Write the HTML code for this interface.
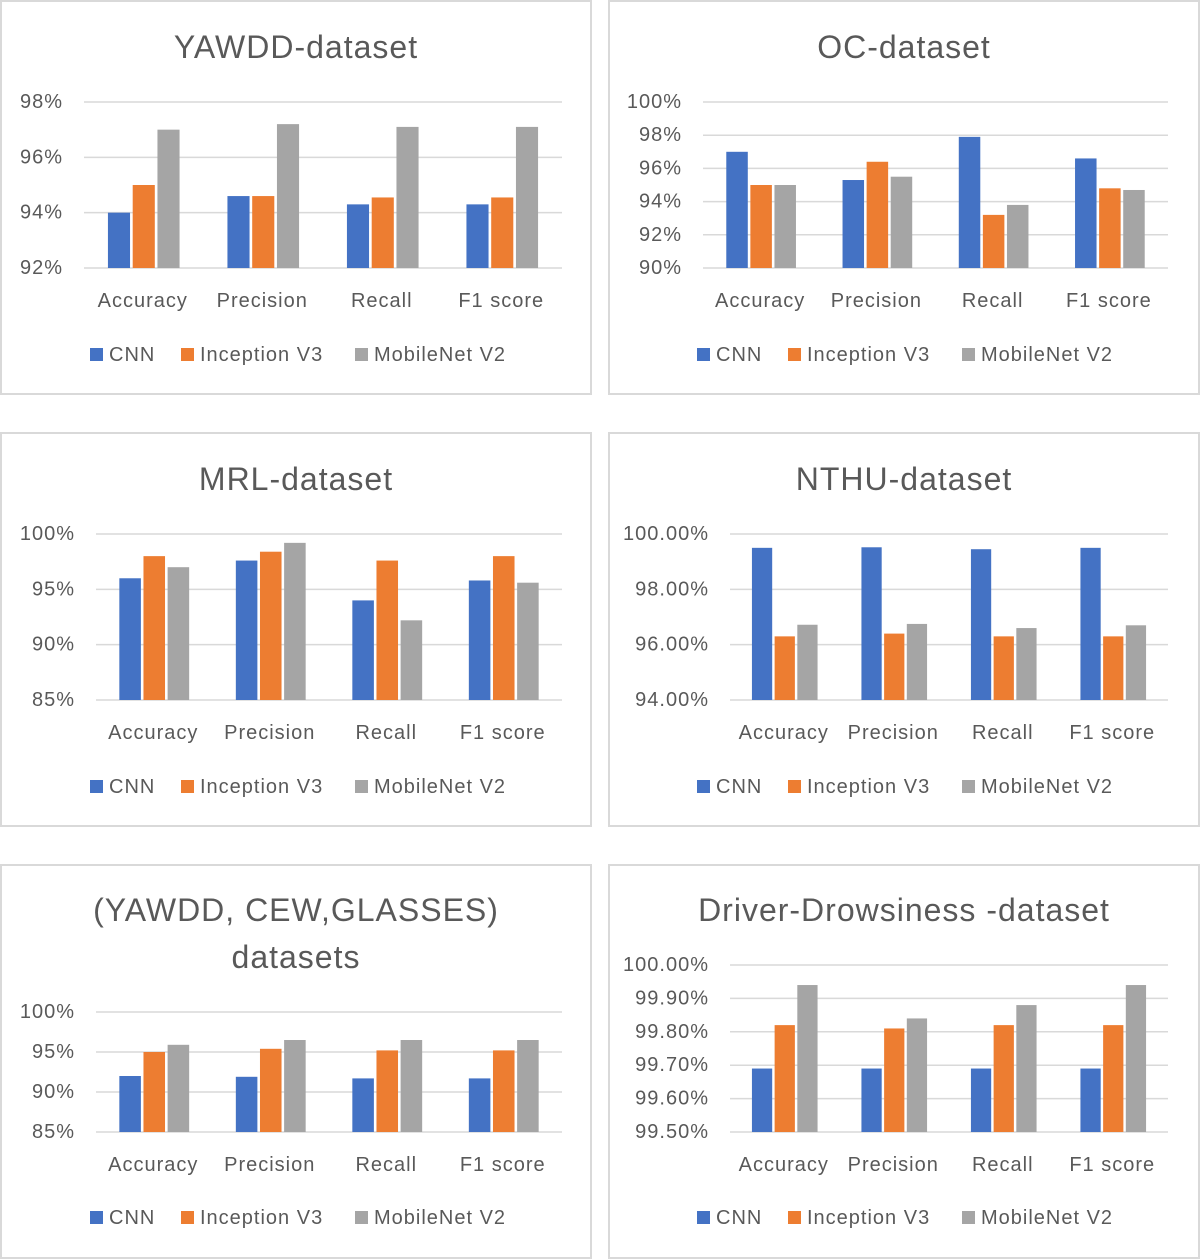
<!DOCTYPE html>
<html><head><meta charset="utf-8"><style>
body{margin:0;background:#fff;width:1200px;height:1259px;overflow:hidden;font-family:"Liberation Sans",sans-serif}
svg{display:block}
svg text{letter-spacing:1px}
</style></head><body>
<svg id="s" width="1200" height="1259"></svg>
<script>
const categories=["Accuracy","Precision","Recall","F1 score"];
const seriesNames=["CNN","Inception V3","MobileNet V2"];
const colors=["#4472C4","#ED7D31","#A5A5A5"];
const yawddCnn=[94.0,94.6,94.3,94.3], yawddInc=[95.0,94.6,94.55,94.55], yawddMob=[97.0,97.2,97.1,97.1];
const yawddTicks=[92,94,96,98];
const ocCnn=[97.0,95.3,97.9,96.6], ocInc=[95.0,96.4,93.2,94.8], ocMob=[95.0,95.5,93.8,94.7];
const ocTicks=[90,92,94,96,98,100];
const mrlCnn=[96.0,97.6,94.0,95.8], mrlInc=[98.0,98.4,97.6,98.0], mrlMob=[97.0,99.2,92.2,95.6];
const mrlTicks=[85,90,95,100];
const nthuCnn=[99.5,99.52,99.45,99.5], nthuInc=[96.3,96.4,96.3,96.3], nthuMob=[96.72,96.75,96.6,96.7];
const nthuTicks=[94,96,98,100];
const combCnn=[92.0,91.9,91.7,91.7], combInc=[95.0,95.4,95.2,95.2], combMob=[95.9,96.5,96.5,96.5];
const combTicks=[85,90,95,100];
const ddCnn=[99.69,99.69,99.69,99.69], ddInc=[99.82,99.81,99.82,99.82], ddMob=[99.94,99.84,99.88,99.94];
const ddTicks=[99.5,99.6,99.7,99.8,99.9,100.0];

const NS="http://www.w3.org/2000/svg";
const svg=document.getElementById('s');
function el(t,a,p){const e=document.createElementNS(NS,t);for(const k in a)e.setAttribute(k,a[k]);(p||svg).appendChild(e);return e;}
function txt(x,y,s,size,anchor,p){const e=el('text',{x:x,y:y,'font-size':size,fill:'#595959','text-anchor':anchor||'middle','dominant-baseline':'central'},p);e.textContent=s;return e;}

function chart(o){
  const g=el('g',{});
  
  
  const bg=el('rect',{x:o.px+1,y:o.py+1,width:590,height:393,fill:'#fff',stroke:'#d9d9d9','stroke-width':2},g);
  
  
  o.title.forEach((t,i)=>{const e=txt(o.px+296,o.py+o.titleY+i*47,t,32,'middle',g);});
  const t0=o.ticks[0],t1=o.ticks[o.ticks.length-1];
  const yS=v=>o.y1-(v-t0)/(t1-t0)*(o.y1-o.y0);
  const gw=(o.x1-o.x0)/categories.length;
  const xC=i=>o.x0+gw*(i+0.5);
  o.ticks.forEach(t=>{
    const l=el('line',{x1:o.x0,x2:o.x1,y1:yS(t),y2:yS(t),stroke:'#d9d9d9','stroke-width':1.5},g);
    
    
    const e=txt(o.x0-21,yS(t),t.toFixed(o.dec)+'%',20,'end',g);
    
    
  });
  const bw=gw*0.185;
  o.series.forEach((arr,s)=>{
    arr.forEach((v,i)=>{
      const cx=xC(i)+(s-1)*bw*1.12;
      const r=el('rect',{x:cx-bw/2,y:yS(v),width:bw,height:o.y1-yS(v),fill:colors[s]},g);
      
      
    });
  });
  categories.forEach((c,i)=>{const e=txt(xC(i)-1,o.y1+33,c,20,'middle',g);});
  const lx=o.px+o.legX, ly=o.py+o.legY;
  const offs=[0,91,265];
  seriesNames.forEach((n,s)=>{
    const r=el('rect',{x:lx+offs[s],y:ly-7,width:13,height:13,fill:colors[s]},g);
    
    
    const e=txt(lx+offs[s]+19,ly,n,20,'start',g);
    
    
  });
}
chart({name:'yawdd',px:0,py:0,title:['YAWDD-dataset'],titleY:47,ticks:yawddTicks,dec:0,x0:84,x1:562,y0:102,y1:268,series:[yawddCnn,yawddInc,yawddMob],legX:90,legY:355});
chart({name:'oc',px:608,py:0,title:['OC-dataset'],titleY:47,ticks:ocTicks,dec:0,x0:703,x1:1168,y0:102,y1:268,series:[ocCnn,ocInc,ocMob],legX:89,legY:355});
chart({name:'mrl',px:0,py:432,title:['MRL-dataset'],titleY:47,ticks:mrlTicks,dec:0,x0:96,x1:562,y0:534,y1:700,series:[mrlCnn,mrlInc,mrlMob],legX:90,legY:355});
chart({name:'nthu',px:608,py:432,title:['NTHU-dataset'],titleY:47,ticks:nthuTicks,dec:2,x0:730,x1:1168,y0:534,y1:700,series:[nthuCnn,nthuInc,nthuMob],legX:89,legY:355});
chart({name:'combined',px:0,py:864,title:['(YAWDD, CEW,GLASSES)','datasets'],titleY:46,ticks:combTicks,dec:0,x0:96,x1:562,y0:1012,y1:1132,series:[combCnn,combInc,combMob],legX:90,legY:354});
chart({name:'driver-drowsiness',px:608,py:864,title:['Driver-Drowsiness -dataset'],titleY:46,ticks:ddTicks,dec:2,x0:730,x1:1168,y0:965,y1:1132,series:[ddCnn,ddInc,ddMob],legX:89,legY:354});
</script>
</body></html>
